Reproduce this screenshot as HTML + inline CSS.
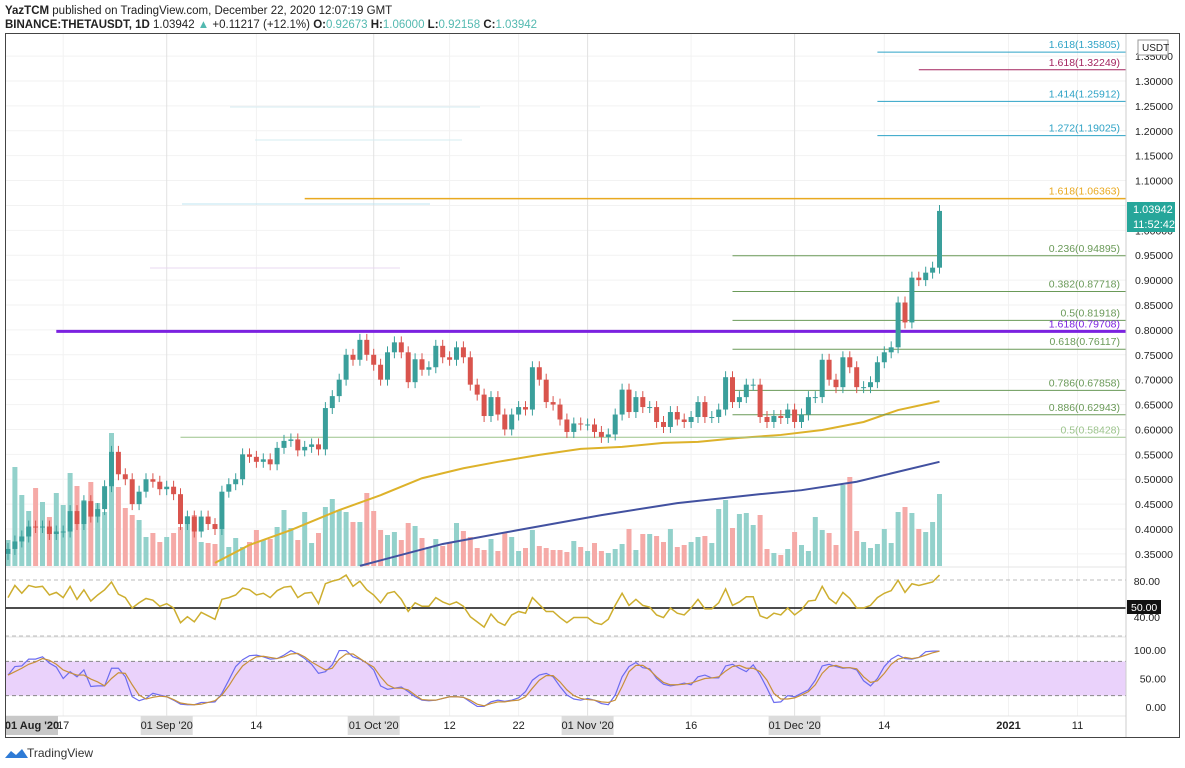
<!DOCTYPE html>
<html><head><meta charset="utf-8"><style>
html,body{margin:0;padding:0;background:#fff;}
svg{display:block;font-family:"Liberation Sans",sans-serif;}
</style></head><body>
<svg id="chart" width="1185" height="768" viewBox="0 0 1185 768" xmlns="http://www.w3.org/2000/svg">
  <rect width="1185" height="768" fill="#fff"/>
  <text x="5" y="14" font-size="11.5" fill="#222"><tspan font-weight="bold">YazTCM</tspan> published on TradingView.com, December 22, 2020 12:07:19 GMT</text>
  <text x="5" y="28" font-size="11.5" fill="#222"><tspan font-weight="bold">BINANCE:THETAUSDT, 1D</tspan> 1.03942 <tspan fill="#53b9b0">▲</tspan> +0.11217 (+12.1%) <tspan font-weight="bold">O:</tspan><tspan fill="#53b9b0">0.92673</tspan> <tspan font-weight="bold">H:</tspan><tspan fill="#53b9b0">1.06000</tspan> <tspan font-weight="bold">L:</tspan><tspan fill="#53b9b0">0.92158</tspan> <tspan font-weight="bold">C:</tspan><tspan fill="#53b9b0">1.03942</tspan></text>
  <g id="grid"></g>
  <g id="ghost">
    <line x1="182" y1="204" x2="430" y2="204" stroke="#bfe4f0" stroke-width="1"/>
    <line x1="230" y1="107" x2="480" y2="107" stroke="#d6ecf2" stroke-width="1"/>
    <line x1="255" y1="140" x2="462" y2="140" stroke="#d6ecf2" stroke-width="1"/>
    <line x1="150" y1="268" x2="400" y2="268" stroke="#e8d8f0" stroke-width="1"/>
  </g>
  <g id="vol"></g>
  <g id="ma"></g>
  <g id="fibs"></g>
  <g id="candles"></g>
  <g id="rsi"></g>
  <g id="stoch"></g>
  <g id="axes"></g>
  <g>
    <path d="M5 758 l6 -7 l5 4 l6 -6 l6 9 z" fill="#2e7bd6"/>
    <text x="27" y="757" font-size="12" fill="#333">TradingView</text>
  </g>
</svg>
<script>
const closes=[0.36,0.375,0.385,0.405,0.404,0.405,0.39,0.395,0.395,0.436,0.41,0.456,0.425,0.44,0.486,0.555,0.51,0.50,0.45,0.475,0.50,0.495,0.48,0.485,0.47,0.41,0.425,0.395,0.425,0.41,0.40,0.475,0.49,0.50,0.55,0.545,0.535,0.54,0.53,0.563,0.577,0.58,0.558,0.565,0.57,0.56,0.643,0.667,0.70,0.75,0.74,0.78,0.75,0.73,0.70,0.755,0.775,0.755,0.695,0.741,0.72,0.725,0.768,0.745,0.74,0.765,0.745,0.69,0.67,0.627,0.665,0.63,0.60,0.63,0.645,0.64,0.725,0.70,0.655,0.65,0.62,0.595,0.612,0.61,0.61,0.595,0.585,0.59,0.63,0.68,0.635,0.665,0.645,0.645,0.615,0.605,0.635,0.62,0.615,0.625,0.655,0.625,0.625,0.64,0.705,0.655,0.665,0.69,0.69,0.625,0.615,0.627,0.623,0.64,0.615,0.63,0.665,0.665,0.74,0.70,0.685,0.745,0.725,0.685,0.685,0.695,0.735,0.755,0.765,0.855,0.815,0.905,0.90,0.915,0.925,1.039];
const volumes=[26,99,71,55,78,64,49,73,61,93,80,66,84,63,54,133,79,58,51,46,29,33,24,29,33,39,50,51,24,23,22,37,19,28,19,24,36,26,27,39,56,38,26,54,23,33,59,67,56,54,44,44,73,55,36,31,34,26,43,40,28,19,27,20,23,43,35,29,18,16,27,15,34,29,15,18,36,20,18,16,16,14,25,19,15,23,15,13,17,22,37,16,32,32,30,24,37,19,21,24,29,30,23,57,66,38,52,53,41,51,17,13,11,17,34,21,15,49,36,33,21,81,89,35,24,18,22,37,23,54,59,53,37,34,44,72];
const rsiValues=[62,76,67,76,74,75,65,68,62,75,60,71,58,65,71,80,66,62,50,56,61,59,52,55,50,33,40,34,45,41,37,60,62,65,73,71,65,67,62,70,74,75,62,67,68,55,78,81,83,88,75,81,71,65,56,67,69,60,46,56,52,52,62,57,54,57,52,40,34,28,43,34,30,42,46,44,62,54,46,46,39,33,39,39,39,33,31,37,53,67,53,60,53,51,42,39,50,44,42,50,60,49,49,56,72,53,57,63,63,41,38,44,42,50,42,48,58,59,75,61,55,68,61,50,50,53,62,67,70,82,68,78,76,78,80,88];
const stochK=[56,71,72,84,84,88,77,70,50,62,53,65,36,37,37,68,68,53,18,11,15,24,21,18,12,5,4,4,8,8,9,24,47,71,83,90,91,88,84,85,91,99,93,85,75,59,62,74,99,99,88,84,77,65,37,31,33,35,27,18,12,11,12,15,18,18,17,9,1,1,9,12,10,12,16,27,47,56,59,53,36,21,14,12,15,12,6,4,21,53,71,78,69,67,50,40,37,39,42,39,53,56,51,51,72,75,68,62,74,56,33,8,9,20,18,24,30,47,72,75,71,68,69,65,46,37,50,71,84,91,85,84,87,97,98,98];
const stochD=[56,62,68,75,79,85,82,75,65,60,56,56,49,44,37,50,60,59,39,21,14,17,19,18,13,7,5,4,5,8,11,21,37,56,72,81,88,89,87,85,88,93,94,88,79,72,65,68,84,93,93,85,77,70,53,39,33,33,30,21,13,12,12,15,18,18,17,12,5,2,6,9,9,11,12,18,33,47,55,55,44,30,20,15,13,12,9,8,12,36,62,73,73,65,53,43,39,39,40,42,46,50,51,53,63,71,73,68,68,62,47,24,14,14,16,21,27,39,59,71,73,69,69,67,53,43,46,59,75,84,87,85,87,91,95,98];
const ma100Idx=[30,35,41,48,54,60,66,71,77,83,89,95,100,106,112,118,124,129,135];
const ma100Val=[0.332,0.368,0.398,0.438,0.468,0.502,0.522,0.535,0.549,0.561,0.565,0.573,0.575,0.583,0.589,0.599,0.615,0.639,0.657];
const ma200Idx=[51,63,74,86,97,109,115,123,129,135];
const ma200Val=[0.326,0.37,0.398,0.428,0.452,0.47,0.478,0.495,0.515,0.535];
const priceTicks=[1.35,1.30,1.25,1.20,1.15,1.10,1.05,1.00,0.95,0.90,0.85,0.80,0.75,0.70,0.65,0.60,0.55,0.50,0.45,0.40,0.35];
const timeLabels=["01 Aug '20","17","01 Sep '20","14","01 Oct '20","12","22","01 Nov '20","16","01 Dec '20","14","2021","11"];
const timeDays=[-8,8,23,36,53,64,74,84,99,114,127,145,155];
const fibLabels=["1.618(1.35805)","1.618(1.32249)","1.414(1.25912)","1.272(1.19025)","1.618(1.06363)","0.236(0.94895)","0.382(0.87718)","0.5(0.81918)","1.618(0.79708)","0.618(0.76117)","0.786(0.67858)","0.886(0.62943)","0.5(0.58428)"];
const fibPrices=[1.35805,1.32249,1.25912,1.19025,1.06363,0.94895,0.87718,0.81918,0.79708,0.76117,0.67858,0.62943,0.58428];
const fibStartDay=[126,132,126,126,43,105,105,105,7,105,105,105,25];
const fibColors=["#2ea3c6","#a3245f","#2ea3c6","#2ea3c6","#e9a91f","#6a9a58","#6a9a58","#6a9a58","#7b22e0","#6a9a58","#6a9a58","#6a9a58","#9cc48c"];

const NS="http://www.w3.org/2000/svg";
function mk(tag,attrs,parent){const e=document.createElementNS(NS,tag);for(const k in attrs)e.setAttribute(k,attrs[k]);parent.appendChild(e);return e;}
const xOf=i=>8+6.9*i;
const yP=p=>81+(1.30-p)/0.05*24.89;
const yR=v=>608-(v-50)*0.867;
const yS=v=>707-v*0.57;
const RIGHT=1126;

const grid=document.getElementById('grid');
priceTicks.forEach(p=>{const l=mk('line',{x1:5,x2:RIGHT,y1:yP(p),y2:yP(p),stroke:'#f2f2f2'},grid);});
timeDays.forEach((d,k)=>{const x=xOf(d);if(x<8)return;const l=mk('line',{x1:x,x2:x,y1:33,y2:716,stroke:(timeLabels[k].startsWith('01')?'#e2e2e2':'#f2f2f2')},grid);});

const vol=document.getElementById('vol');
volumes.forEach((v,i)=>{const o=i?closes[i-1]:0.35;const up=closes[i]>=o;const r=mk('rect',{x:xOf(i)-2.5,y:566-v,width:5,height:v,fill:up?'#93d1cb':'#f5aaa7'},vol);});

const ma=document.getElementById('ma');
function maLine(idx,val,color,name){const pts=idx.map((d,k)=>xOf(d)+','+Math.min(566,yP(val[k]))).join(' ');const pl=mk('polyline',{points:pts,fill:'none',stroke:color,'stroke-width':2},ma);}
maLine(ma100Idx,ma100Val,'#ddb22a','ma-100-line');
maLine(ma200Idx,ma200Val,'#4251a0','ma-200-line');

const fibs=document.getElementById('fibs');
fibPrices.forEach((p,k)=>{const y=yP(p);const x1=xOf(fibStartDay[k]);const purple=k===8;const l=mk('line',{x1:x1,x2:RIGHT,y1:y,y2:y,stroke:fibColors[k],'stroke-width':purple?3:(k===4?1.5:1)},fibs);
const t=mk('text',{x:1120,y:y-4,'text-anchor':'end','font-size':10.5,fill:fibColors[k]},fibs);t.textContent=fibLabels[k];});

const cg=document.getElementById('candles');
closes.forEach((c,i)=>{const o=i?closes[i-1]:0.35;const up=c>=o;const col=up?'#3a9f9b':'#d9544d';const hi=Math.max(o,c)+0.012,lo=Math.min(o,c)-0.012;
const w=mk('line',{x1:xOf(i),x2:xOf(i),y1:yP(hi),y2:yP(lo),stroke:col,'stroke-width':1},cg);
const top=yP(Math.max(o,c)),bot=yP(Math.min(o,c));const b=mk('rect',{x:xOf(i)-2.5,y:top,width:5,height:Math.max(1,bot-top),fill:col},cg);});

const ax=document.getElementById('axes');
[567,637,716].forEach(y=>{const l=mk('line',{x1:5,x2:1180,y1:y,y2:y,stroke:'#e4e4e4'},ax);});

const rg=document.getElementById('rsi');
[580,636].forEach(y=>{const l=mk('line',{x1:5,x2:RIGHT,y1:y,y2:y,stroke:'#bbb','stroke-dasharray':'4,3'},rg);});
const r50=mk('line',{x1:5,x2:RIGHT,y1:yR(50),y2:yR(50),stroke:'#111','stroke-width':1.5},rg);
const rl=mk('polyline',{points:rsiValues.map((v,i)=>xOf(i)+','+yR(v)).join(' '),fill:'none',stroke:'#cdae2f','stroke-width':1.5},rg);

const sg=document.getElementById('stoch');
const band=mk('rect',{x:5,y:yS(80),width:RIGHT-5,height:yS(20)-yS(80),fill:'#ead2fb'},sg);
[80,20].forEach(v=>{const l=mk('line',{x1:5,x2:RIGHT,y1:yS(v),y2:yS(v),stroke:'#888','stroke-dasharray':'4,3'},sg);});
const kl=mk('polyline',{points:stochK.map((v,i)=>xOf(i)+','+yS(v)).join(' '),fill:'none',stroke:'#6c6cf0','stroke-width':1.2},sg);
const dl=mk('polyline',{points:stochD.map((v,i)=>xOf(i)+','+yS(v)).join(' '),fill:'none',stroke:'#c8903a','stroke-width':1.2},sg);

mk('rect',{x:RIGHT,y:33,width:54,height:705,fill:'#fff'},ax);
const ps=mk('line',{x1:RIGHT,x2:RIGHT,y1:33,y2:738,stroke:'#ccc'},ax);
priceTicks.forEach(p=>{const t=mk('text',{x:1173,y:yP(p)+4,'text-anchor':'end','font-size':10.5,fill:'#222'},ax);t.textContent=p.toFixed(5);});
[['80.00',581],['40.00',617]].forEach(a=>{const t=mk('text',{x:1160,y:a[1]+4,'text-anchor':'end','font-size':10.5,fill:'#222'},ax);t.textContent=a[0];});
mk('rect',{x:1127,y:600,width:34,height:14,fill:'#111'},ax);
const t50=mk('text',{x:1131,y:611,'font-size':10.5,fill:'#fff'},ax);t50.textContent='50.00';
[[100,'100.00'],[50,'50.00'],[0,'0.00']].forEach(a=>{const t=mk('text',{x:1166,y:yS(a[0])+4,'text-anchor':'end','font-size':10.5,fill:'#222'},ax);t.textContent=a[1];});
mk('rect',{x:1138,y:40,width:30,height:15,fill:'#fff',stroke:'#999'},ax);
const us=mk('text',{x:1142,y:51,'font-size':10,fill:'#222'},ax);us.textContent='USDT';
mk('rect',{x:1127,y:202,width:48,height:15,fill:'#26a69a'},ax);
const cp=mk('text',{x:1133,y:213,'font-size':11,fill:'#fff'},ax);cp.textContent='1.03942';
mk('rect',{x:1127,y:217,width:48,height:15,fill:'#26a69a'},ax);
const cd=mk('text',{x:1133,y:228,'font-size':11,fill:'#fff'},ax);cd.textContent='11:52:42';

timeLabels.forEach((s,k)=>{let x=xOf(timeDays[k]);const full=s.startsWith('01');let w=full?52:0;if(full){if(x-w/2<6)x=6+w/2;mk('rect',{x:x-w/2,y:716,width:w,height:19,fill:k===0?'#c8c8c8':'#dcdcdc'},ax);}
const t=mk('text',{x:x,y:729,'text-anchor':'middle','font-size':11,fill:'#222','font-weight':(s==='2021'||k===0)?'bold':'normal'},ax);t.textContent=s;});

const fr=mk('rect',{x:5.5,y:33.5,width:1174,height:704,fill:'none',stroke:'#444'},ax);
</script>
</body></html>
